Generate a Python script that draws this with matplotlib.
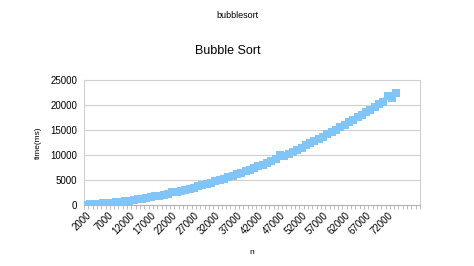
import numpy as np
import matplotlib
matplotlib.use('Agg')
import matplotlib.pyplot as plt

plt.rcParams['font.family'] = ['Liberation Sans', 'DejaVu Sans']

# n values (categories) and measured times in ms
n_values = list(range(2000, 75000, 1000))
times_ms = [
    75, 123, 180, 245, 315, 390, 475, 570, 670, 780,
    890, 1010, 1140, 1280, 1420, 1575, 1735, 1900, 2080, 2300,
    2550, 2660, 2850, 3060, 3270, 3500, 3730, 3970, 4220, 4470,
    4730, 5000, 5280, 5560, 5850, 6150, 6460, 6770, 7100, 7420,
    7760, 8100, 8450, 8800, 9200, 10000, 9750, 10200, 10700, 11100,
    11500, 11940, 12360, 12800, 13240, 13680, 14130, 14600, 15060, 15540,
    16020, 16510, 17010, 17520, 18030, 18550, 19080, 19600, 20150, 20700,
    21800, 21500, 22400,
]
n_slots = 78          # category slots on the x axis (2000 .. 79000)
label_step = 5

fig = plt.figure(figsize=(4.74, 2.66), dpi=100)
ax = fig.add_axes([84 / 474, 1 - 205 / 266, 336 / 474, 125 / 266])

x = np.arange(len(n_values))
ax.plot(x, times_ms, color='#80c4f8', marker='s', markersize=5.5,
        linewidth=3.5, markeredgewidth=0, zorder=3)

ax.set_xlim(-0.5, n_slots - 0.5)
ax.set_ylim(0, 25000)
ax.set_yticks(range(0, 25001, 5000))
ax.yaxis.grid(True, color='#d0d0d0', linewidth=0.8)
ax.set_axisbelow(True)

ax.set_xticks(x[::label_step])
ax.set_xticklabels([str(v) for v in n_values[::label_step]], rotation=45,
                   ha='right', va='top', rotation_mode='anchor', fontsize=7)
ax.set_xticks(np.arange(n_slots + 1) - 0.5, minor=True)
ax.tick_params(axis='x', which='major', length=0, pad=4)
ax.tick_params(axis='x', which='minor', length=3, color='#b3b3b3', width=0.6)
ax.tick_params(axis='y', length=0, labelsize=7, pad=5)

for s in ax.spines.values():
    s.set_color('#d0d0d0')
    s.set_linewidth(0.8)
ax.spines['bottom'].set_color('#b3b3b3')

ax.set_ylabel('time(ms)', fontsize=6, labelpad=6)
ax.set_xlabel('n', fontsize=6, labelpad=9)
fig.text(228 / 474, 1 - 51 / 266, 'Bubble Sort', fontsize=9, ha='center', va='center')
fig.text(0.5, 1 - 16 / 266, 'bubblesort', fontsize=6.5, ha='center', va='center')

fig.savefig('out.png', dpi=100)
